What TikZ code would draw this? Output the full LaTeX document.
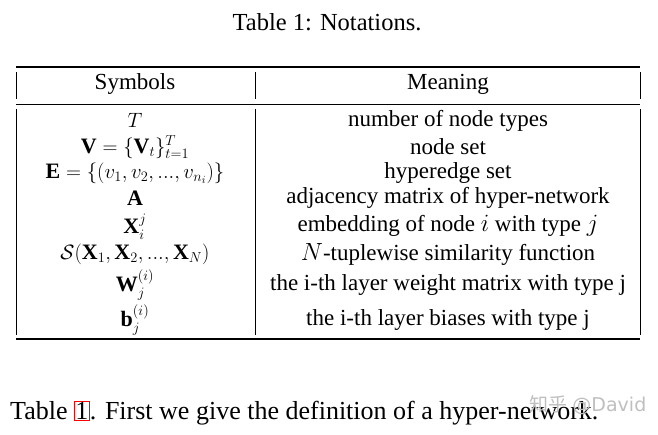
\documentclass[tikz,border=0pt]{standalone}
\usepackage{amsmath,amssymb}
\usepackage{fontspec}
\setmainfont{Liberation Serif}
\newfontfamily\cjk{Noto Sans CJK SC}
\begin{document}
\begin{tikzpicture}[x=1pt,y=-1pt,
  cell/.style={inner sep=0pt,anchor=center,font=\fontsize{23}{24}\selectfont},
  sym/.style={inner sep=0pt,anchor=center,font=\fontsize{22}{23}\selectfont},
  thick rule/.style={line width=2pt},
  thin rule/.style={line width=0.9pt}]
\useasboundingbox (0,0) rectangle (658,434);
\node[cell,font=\fontsize{24.5}{26}\selectfont] (title) at (327,22) {Table 1: Notations.};
\draw[thick rule] (16,67) -- (640,67);
\draw[thin rule] (16,104) -- (640,104);
\draw[thick rule] (16,339) -- (640,339);
\foreach \x in {16,255,640}{
  \draw[thin rule] (\x,72) -- (\x,99);
  \draw[thin rule] (\x,109) -- (\x,335);
}
\node[cell] (hs) at (135,84) {Symbols};
\node[cell] (hm) at (448,84) {Meaning};
\node[sym] (s1) at (135,120) {$T$};
\node[sym] (s2) at (135,147) {$\mathbf{V}=\{\mathbf{V}_t\}_{t=1}^T$};
\node[sym] (s3) at (135,173) {$\mathbf{E}=\{(v_1,v_2,...,v_{n_i})\}$};
\node[sym] (s4) at (135,198) {$\mathbf{A}$};
\node[sym] (s5) at (135,227) {$\mathbf{X}_i^j$};
\node[sym] (s6) at (135,254) {$\mathcal{S}(\mathbf{X}_1,\mathbf{X}_2,...,\mathbf{X}_N)$};
\node[sym] (s7) at (135,285) {$\mathbf{W}_j^{(i)}$};
\node[sym] (s8) at (135,320) {$\mathbf{b}_j^{(i)}$};
\node[cell] (m1) at (448,121) {number of node types};
\node[cell] (m2) at (448,147) {node set};
\node[cell] (m3) at (448,173) {hyperedge set};
\node[cell] (m4) at (448,198) {adjacency matrix of hyper-network};
\node[cell] (m5) at (448,226) {embedding of node $i$ with type $j$};
\node[cell] (m6) at (448,254) {$N$-tuplewise similarity function};
\node[cell] (m7) at (448,285) {the i-th layer weight matrix with type j};
\node[cell] (m8) at (448,320) {the i-th layer biases with type j};
\node[inner sep=0pt,anchor=west,font=\fontsize{26}{28}\selectfont] (cap) at (10,413)
  {Table \tikz[baseline=(r.base)]\node[draw=red,line width=0.8pt,inner sep=1pt] (r) {1};. First we give the definition of a hyper-network.};
\node[inner sep=0pt,anchor=center,text=black!25,font=\fontsize{19}{20}\selectfont] (wm) at (588,405)
  {{\cjk 知乎} {\fontspec{DejaVu Sans}@David}};
\end{tikzpicture}
\end{document}
